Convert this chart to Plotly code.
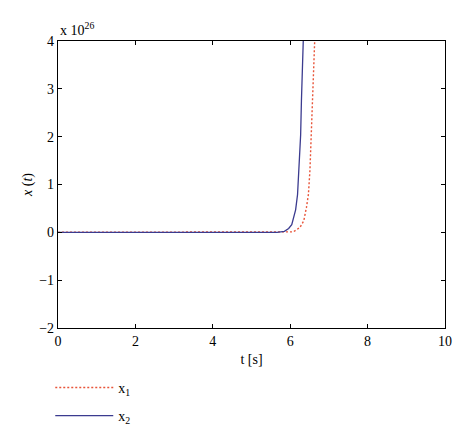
import plotly.graph_objects as go

# values in units of 1e26
t_x1 = [0, 5.0, 5.8, 6.08, 6.25, 6.35, 6.42, 6.47, 6.51, 6.54, 6.57, 6.60, 6.63, 6.66]
x1 = [0, 0, 0, 0.01, 0.10, 0.24, 0.52, 0.79, 1.30, 2.04, 2.74, 3.44, 4.0, 4.6]

t_x2 = [0, 5.0, 5.66, 5.85, 5.96, 6.04, 6.08, 6.14, 6.19, 6.21, 6.23, 6.27, 6.29, 6.31, 6.34, 6.36]
x2 = [0, 0, 0, 0.02, 0.08, 0.16, 0.27, 0.47, 0.79, 1.07, 1.56, 2.04, 2.74, 3.44, 4.0, 4.6]

xticks = [0, 2, 4, 6, 8, 10]
yticks = [-2, -1, 0, 1, 2, 3, 4]

serif = "Liberation Serif"

fig = go.Figure()

fig.add_trace(go.Scatter(
    x=t_x1, y=x1, mode='lines', name='x<sub>1</sub>',
    line=dict(color='#e8553a', width=1.4, dash='2px,2px'),
    legendgroup='a'
))
fig.add_trace(go.Scatter(
    x=t_x2, y=x2, mode='lines', name='x<sub>2</sub>',
    line=dict(color='#3b3b8f', width=1.3),
    legendgroup='b'
))

axis_style = dict(
    showline=True, linecolor='black', linewidth=1.2, mirror='ticks',
    ticks='inside', ticklen=4, tickcolor='black', showgrid=False, zeroline=False,
    automargin=False,
    tickfont=dict(family=serif, size=14, color='black'),
)

fig.update_xaxes(range=[0, 10], tickvals=xticks,
                 title=dict(text='t [s]', font=dict(family=serif, size=14, color='black'), standoff=6),
                 **axis_style)
fig.update_yaxes(range=[-2, 4], tickvals=yticks,
                 title=dict(text='<i>x</i> (<i>t</i>)', font=dict(family=serif, size=14, color='black'), standoff=3),
                 **axis_style)

fig.add_annotation(
    x=0, y=1, xref='paper', yref='paper', xanchor='left', yanchor='bottom',
    text='x 10<sup>26</sup>', showarrow=False,
    font=dict(family=serif, size=14, color='black'), yshift=1
)

# page body adds ~8px offset, so margins compensate
fig.update_layout(
    width=474, height=445,
    margin=dict(l=50, r=37, t=33, b=125, autoexpand=False),
    plot_bgcolor='white', paper_bgcolor='white',
    showlegend=True,
    legend=dict(
        x=-0.02, y=-0.153, xanchor='left', yanchor='top',
        tracegroupgap=7, itemwidth=58,
        font=dict(family=serif, size=14, color='black'),
        bgcolor='rgba(0,0,0,0)'
    )
)

fig.write_html("out.html")
